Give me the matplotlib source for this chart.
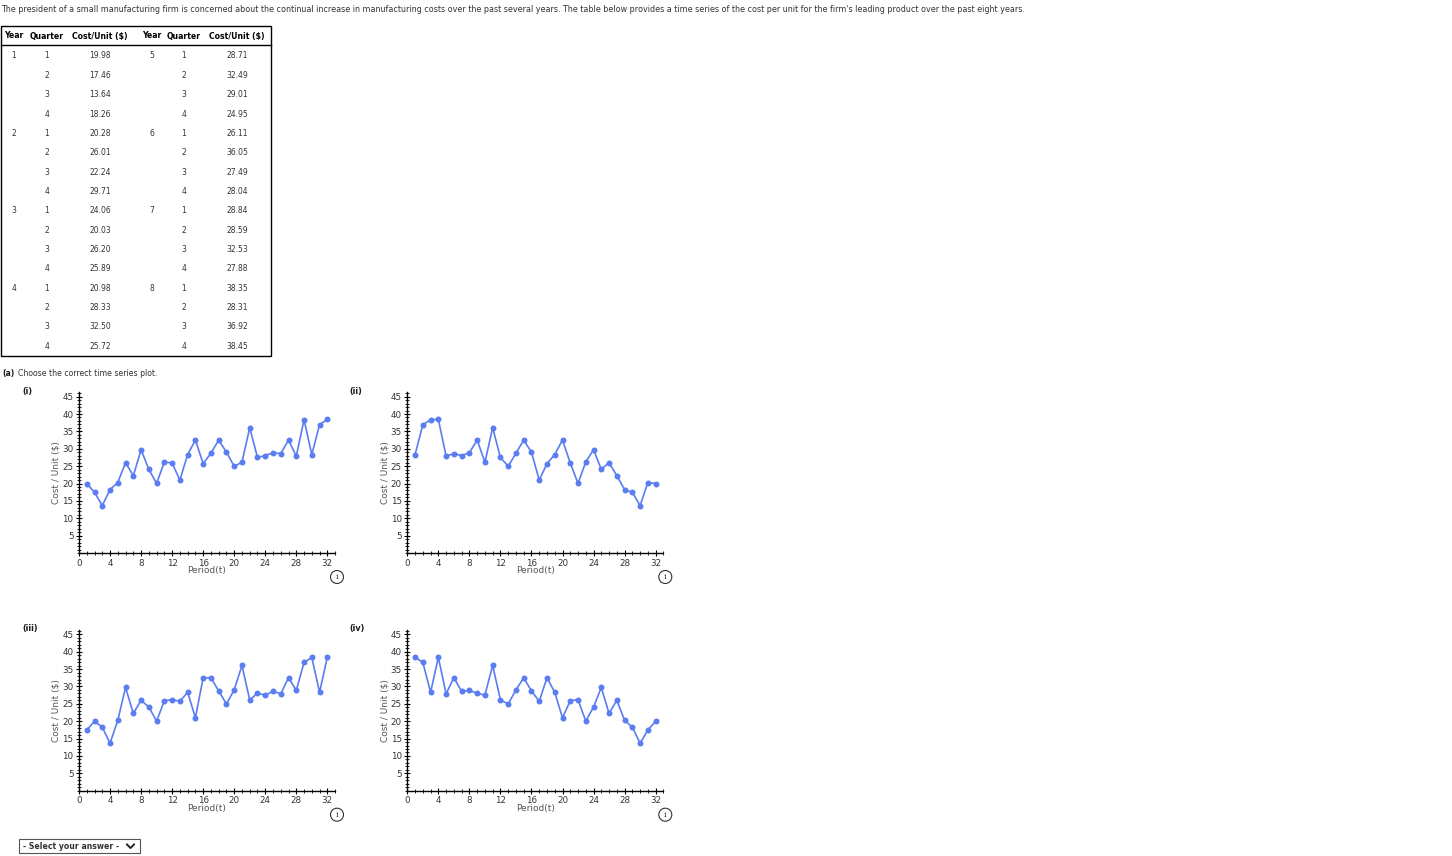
import matplotlib
matplotlib.use("Agg")
import matplotlib.pyplot as plt
from matplotlib.patches import Rectangle
from matplotlib.lines import Line2D
from matplotlib.ticker import MultipleLocator

W, H = 1452, 856

# table data
years_left = [1, 2, 3, 4]
years_right = [5, 6, 7, 8]
quarters = [1, 2, 3, 4]
cost_left = [19.98, 17.46, 13.64, 18.26, 20.28, 26.01, 22.24, 29.71,
             24.06, 20.03, 26.20, 25.89, 20.98, 28.33, 32.50, 25.72]
cost_right = [28.71, 32.49, 29.01, 24.95, 26.11, 36.05, 27.49, 28.04,
              28.84, 28.59, 32.53, 27.88, 38.35, 28.31, 36.92, 38.45]

# values (periods 1..32)
periods = list(range(1, 33))
plot_i = [19.98, 17.46, 13.64, 18.26, 20.28, 26.01, 22.24, 29.71,
          24.06, 20.03, 26.20, 25.89, 20.98, 28.33, 32.50, 25.72,
          28.71, 32.49, 29.01, 24.95, 26.11, 36.05, 27.49, 28.04,
          28.84, 28.59, 32.53, 27.88, 38.35, 28.31, 36.92, 38.45]
plot_ii = [28.31, 36.92, 38.35, 38.45, 27.88, 28.59, 28.04, 28.84,
           32.53, 26.11, 36.05, 27.49, 24.95, 28.71, 32.49, 29.01,
           20.98, 25.72, 28.33, 32.50, 25.89, 20.03, 26.20, 29.71,
           24.06, 26.01, 22.24, 18.26, 17.46, 13.64, 20.28, 19.98]
plot_iii = [17.46, 19.98, 18.26, 13.64, 20.28, 29.71, 22.24, 26.01,
            24.06, 20.03, 25.89, 26.20, 25.72, 28.33, 20.98, 32.50,
            32.49, 28.71, 24.95, 29.01, 36.05, 26.11, 28.04, 27.49,
            28.59, 27.88, 32.53, 28.84, 36.92, 38.35, 28.31, 38.45]
plot_iv = [38.45, 36.92, 28.31, 38.35, 27.88, 32.53, 28.59, 28.84,
           28.04, 27.49, 36.05, 26.11, 24.95, 29.01, 32.49, 28.71,
           25.72, 32.50, 28.33, 20.98, 25.89, 26.20, 20.03, 24.06,
           29.71, 22.24, 26.01, 20.28, 18.26, 13.64, 17.46, 19.98]

TXT = "#333333"
BLUE = "#5a7df2"

fig = plt.figure(figsize=(W / 100, H / 100), dpi=100)


def fx(x):
    return x / W


def fy(y):
    return 1 - y / H


def ptext(x, y, s, **kw):
    kw.setdefault("fontsize", 5.5)
    kw.setdefault("color", TXT)
    kw.setdefault("va", "center")
    fig.text(fx(x), fy(y), s, **kw)


# intro text
ptext(1, 10, "The president of a small manufacturing firm is concerned about the continual increase in "
      "manufacturing costs over the past several years. The table below provides a time series of the "
      "cost per unit for the firm's leading product over the past eight years.",
      fontsize=5.75, ha="left")

# table frame
fig.patches.append(Rectangle((fx(1), fy(356)), fx(270), 330 / H, transform=fig.transFigure,
                             fill=False, edgecolor="black", linewidth=1.0))
fig.lines.append(Line2D([fx(1), fx(271)], [fy(45), fy(45)], transform=fig.transFigure,
                        color="black", linewidth=1.0))

col_x = [14, 47, 100, 152, 184, 237]
headers = ["Year", "Quarter", "Cost/Unit ($)", "Year", "Quarter", "Cost/Unit ($)"]
for cx, h in zip(col_x, headers):
    ptext(cx, 36, h, ha="center", fontweight="bold", color="black", fontsize=5.6)

row_y0, row_dy = 56, 19.35
for i in range(16):
    y = row_y0 + i * row_dy
    q = quarters[i % 4]
    if i % 4 == 0:
        ptext(col_x[0], y, str(years_left[i // 4]), ha="center")
        ptext(col_x[3], y, str(years_right[i // 4]), ha="center")
    ptext(col_x[1], y, str(q), ha="center")
    ptext(col_x[4], y, str(q), ha="center")
    ptext(col_x[2], y, f"{cost_left[i]:.2f}", ha="center")
    ptext(col_x[5], y, f"{cost_right[i]:.2f}", ha="center")

ptext(2, 373, "(a)", fontweight="bold", ha="left", color="#1a1a1a", fontsize=5.6)
ptext(18, 373, "Choose the correct time series plot.", ha="left", fontsize=5.6)


def make_plot(x0, yaxis, label, lab_x, lab_y, values):
    # x0: pixel of x=0, yaxis: pixel of y=0 baseline
    px_per_x = 7.76
    px_per_y = 3.475
    xmax, ymax = 33.0, 46.2
    wpx = xmax * px_per_x
    hpx = ymax * px_per_y
    ax = fig.add_axes([fx(x0), fy(yaxis), wpx / W, hpx / H])
    ax.plot(periods, values, color=BLUE, linewidth=1.2, marker="o", markersize=4.3,
            markeredgewidth=0)
    ax.set_xlim(0, xmax)
    ax.set_ylim(0, ymax)
    for s in ("top", "right"):
        ax.spines[s].set_visible(False)
    for s in ("left", "bottom"):
        ax.spines[s].set_linewidth(1.0)
    ax.xaxis.set_major_locator(MultipleLocator(4))
    ax.xaxis.set_minor_locator(MultipleLocator(1))
    ax.set_yticks([5, 10, 15, 20, 25, 30, 35, 40, 45])
    ax.yaxis.set_minor_locator(MultipleLocator(1))
    ax.tick_params(which="major", direction="inout", length=5, width=0.8,
                   labelsize=6.3, labelcolor=TXT, pad=1.5)
    ax.tick_params(which="minor", direction="inout", length=2.5, width=0.6)
    ax.set_xlabel("Period(t)", fontsize=6.5, color="#555555", labelpad=-1)
    ax.set_ylabel("Cost / Unit ($)", fontsize=6.5, color="#555555", labelpad=1)
    ax.patch.set_visible(False)
    ptext(lab_x, lab_y, label, fontweight="bold", ha="left", color="#1a1a1a", fontsize=5.8)
    # info icon
    ix = x0 + 258
    iy = yaxis + 24
    fig.text(fx(ix), fy(iy), "i", fontsize=6, ha="center", va="center", color="#333333",
             family="DejaVu Serif",
             bbox=dict(boxstyle="circle,pad=0.3", facecolor="white", edgecolor="#333333",
                       linewidth=0.8))
    return ax


make_plot(79, 553, "(i)", 22, 392, plot_i)
make_plot(407.3, 553, "(ii)", 349, 392, plot_ii)
make_plot(79, 790.7, "(iii)", 22, 629, plot_iii)
make_plot(407.3, 790.7, "(iv)", 349, 629, plot_iv)

# answer dropdown
fig.patches.append(Rectangle((fx(19), fy(853)), 121 / W, 14 / H, transform=fig.transFigure,
                             facecolor="white", edgecolor="#555555", linewidth=0.8))
ptext(23, 846.5, "- Select your answer -", ha="left", fontweight="bold", color="#333333", fontsize=5.6)
fig.lines.append(Line2D([fx(127), fx(130.5), fx(134)], [fy(844.5), fy(848), fy(844.5)],
                        transform=fig.transFigure, color="#222222", linewidth=1.4))

fig.savefig("out.png", dpi=100)
